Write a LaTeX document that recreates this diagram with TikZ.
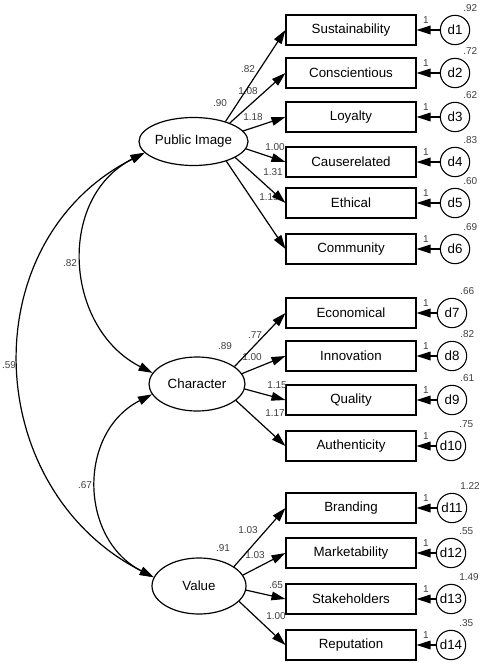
\documentclass[tikz,border=0pt]{standalone}
\usepackage{fontspec}
\setmainfont{Liberation Sans}
\usetikzlibrary{arrows.meta,shapes.geometric}

\begin{document}
\begin{tikzpicture}[x=0.75pt,y=0.75pt]
\tikzstyle{latent}=[ellipse, draw=black, line width=0.9pt, inner sep=0pt, font=\fontsize{10}{12}\selectfont]
\tikzstyle{item}=[rectangle, draw=black, line width=0.8pt, minimum width=97.5pt, minimum height=22.5pt, font=\fontsize{10}{12}\selectfont]
\tikzstyle{err}=[circle, draw=black, line width=0.8pt, minimum size=22pt, inner sep=1pt, font=\fontsize{10}{12}\selectfont]
\tikzstyle{est}=[inner sep=0pt, text=black!75, font=\fontsize{7.5}{9}\selectfont]
\tikzstyle{load}=[-{Triangle[length=10.5pt,width=6.5pt]}, line width=0.9pt]
\tikzstyle{cov}=[{Triangle[length=10.5pt,width=6.5pt]}-{Triangle[length=10.5pt,width=6.5pt]}, line width=0.9pt]

\useasboundingbox (0,0) rectangle (481,-663);

% Latent variables
\node at (193.5,-141.5) [latent, minimum width=71.25pt, minimum height=36pt] (pub) {Public Image};
\node at (197,-384) [latent, minimum width=72pt, minimum height=40.5pt] (char) {Character};
\node at (199,-586) [latent, minimum width=70.5pt, minimum height=42pt] (val) {Value};

% Indicators and errors
\foreach \i/\y/\dx/\txt/\v in {1/30/455/Sustainability/.92, 2/73/455/Conscientious/.72,
  3/117/455/Loyalty/.62, 4/162/455/Causerelated/.83, 5/203/455/Ethical/.60,
  6/249/455/Community/.69, 7/313/452/Economical/.66, 8/356/452/Innovation/.82,
  9/400/452/Quality/.61, 10/446/451/Authenticity/.75, 11/508/452/Branding/1.22,
  12/553/451/Marketability/.55, 13/599/451/Stakeholders/1.49, 14/645/451/Reputation/.35}
{
\node at (351,-\y) [item] (ind_\i) {\txt};
\node at (\dx,-\y) [err] (d_\i) {d\i};
\node at (\dx+8,-\y+22) [est, anchor=west] (var_\i) {\v};
\node at (426,-\y+10) [est] (one_\i) {1};
\draw [load] (d_\i) -- (ind_\i);
}

% Estimates
\node at (220,-103) [est] (v_pub) {.90};
\node at (225,-346) [est] (v_char) {.89};
\node at (223,-548) [est] (v_val) {.91};
\foreach \x/\y/\v [count=\k] in {248/69/.82, 248/91/1.08, 253/117/1.18, 275/147/1.00, 273/172/1.31, 269/197/1.15,
  255/335/.77, 252/357/1.00, 277/385/1.15, 275/413/1.17,
  248/530/1.03, 255/555/1.03, 276/585/.65, 276/616/1.00}
\node at (\x,-\y) [est] (w_\k) {\v};

% Public Image -> items
\foreach \i/\a in {1/32, 2/27, 3/12, 4/-8, 5/-21, 6/-31}
\draw [load] (pub.\a) -- (ind_\i.west);

% Character -> items
\foreach \i/\a in {7/25, 8/13, 9/-6, 10/-23}
\draw [load] (char.\a) -- (ind_\i.west);

% Value -> items
\foreach \i/\a in {11/29, 12/14, 13/-5, 14/-21}
\draw [load] (val.\a) -- (ind_\i.west);

% Covariances
\draw [cov] (pub.193) to[out=207, in=153, looseness=1.15] (char.166);
\draw [cov] (pub.193) to[out=207, in=153, looseness=1.17] (val.169);
\draw [cov] (char.193) to[out=207, in=153, looseness=1.17] (val.169);
\node at (70,-263) [est] (c_pc) {.82};
\node at (9,-365) [est] (c_pv) {.59};
\node at (85,-485) [est] (c_cv) {.67};
\end{tikzpicture}
\end{document}
